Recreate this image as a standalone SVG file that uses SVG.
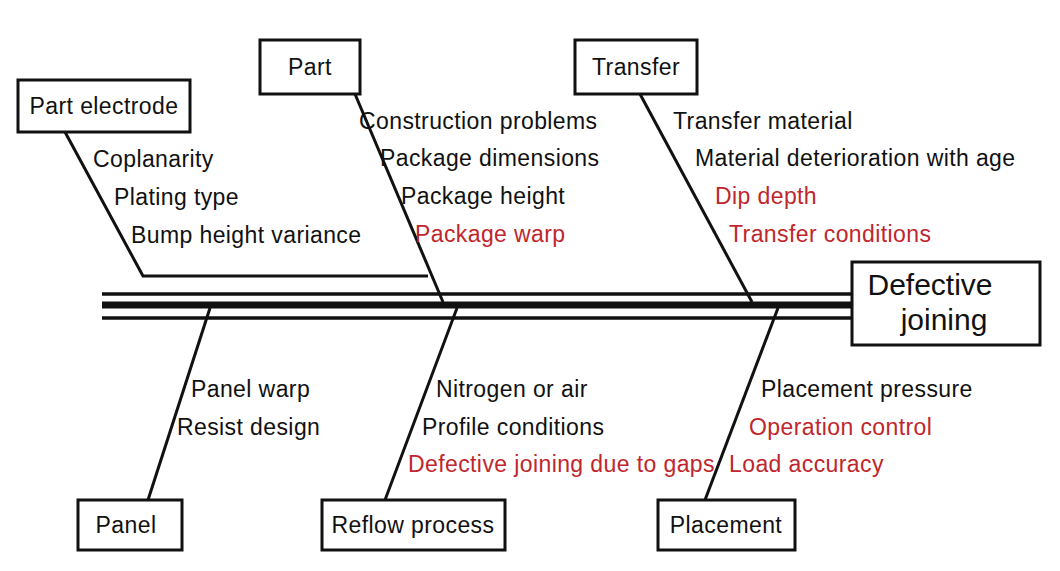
<svg xmlns="http://www.w3.org/2000/svg" width="1060" height="571" viewBox="0 0 1060 571">
<style>
.b{fill:#fff;stroke:#111;stroke-width:3}
.l{stroke:#111;fill:none}
text{font-family:"Liberation Sans",Arial,sans-serif;font-size:23px;letter-spacing:0.4px;fill:#111}
.r{fill:#c0262c}
.big{font-size:30px;letter-spacing:0}
</style>
<rect width="1060" height="571" fill="#fff"/>
<g id="connectors">
<line class="l" x1="102" y1="294" x2="852" y2="294" stroke-width="3.5"/>
<line class="l" x1="102" y1="305" x2="852" y2="305" stroke-width="7"/>
<line class="l" x1="102" y1="318" x2="852" y2="318" stroke-width="3.5"/>
<polyline class="l" points="65,132 143,276 428,276" stroke-width="3"/>
<line class="l" x1="355" y1="94" x2="443" y2="302" stroke-width="3"/>
<line class="l" x1="640" y1="94" x2="752" y2="302" stroke-width="3"/>
<line class="l" x1="148" y1="500" x2="210" y2="308" stroke-width="3"/>
<line class="l" x1="385" y1="500" x2="457" y2="308" stroke-width="3"/>
<line class="l" x1="705" y1="500" x2="778" y2="308" stroke-width="3"/>
</g>
<g id="part-electrode"><rect class="b" x="18" y="80" width="172" height="52"/><text x="104" y="114" text-anchor="middle">Part electrode</text>
<text x="93" y="167">Coplanarity</text><text x="114" y="205">Plating type</text><text x="131" y="243">Bump height variance</text></g>
<g id="part"><rect class="b" x="260" y="40" width="100" height="54"/><text x="310" y="75" text-anchor="middle">Part</text>
<text x="359" y="129">Construction problems</text><text x="380" y="166">Package dimensions</text><text x="401" y="204">Package height</text><text class="r" x="415" y="242">Package warp</text></g>
<g id="transfer"><rect class="b" x="575" y="40" width="122" height="54"/><text x="636" y="75" text-anchor="middle">Transfer</text>
<text x="673" y="129">Transfer material</text><text x="695" y="166">Material deterioration with age</text><text class="r" x="715" y="204">Dip depth</text><text class="r" x="729" y="242">Transfer conditions</text></g>
<g id="defective"><rect class="b" x="852" y="262" width="188" height="83"/><text class="big" x="930" y="295" text-anchor="middle">Defective</text><text class="big" x="944" y="330" text-anchor="middle">joining</text></g>
<g id="panel"><rect class="b" x="78" y="500" width="104" height="50"/><text x="126" y="533" text-anchor="middle">Panel</text>
<text x="191" y="397">Panel warp</text><text x="177" y="435">Resist design</text></g>
<g id="reflow"><rect class="b" x="322" y="500" width="183" height="50"/><text x="413" y="533" text-anchor="middle">Reflow process</text>
<text x="436" y="397">Nitrogen or air</text><text x="422" y="435">Profile conditions</text><text class="r" x="408" y="472">Defective joining due to gaps</text></g>
<g id="placement"><rect class="b" x="658" y="500" width="137" height="50"/><text x="726" y="533" text-anchor="middle">Placement</text>
<text x="761" y="397">Placement pressure</text><text class="r" x="749" y="435">Operation control</text><text class="r" x="729" y="472">Load accuracy</text></g>
</svg>
